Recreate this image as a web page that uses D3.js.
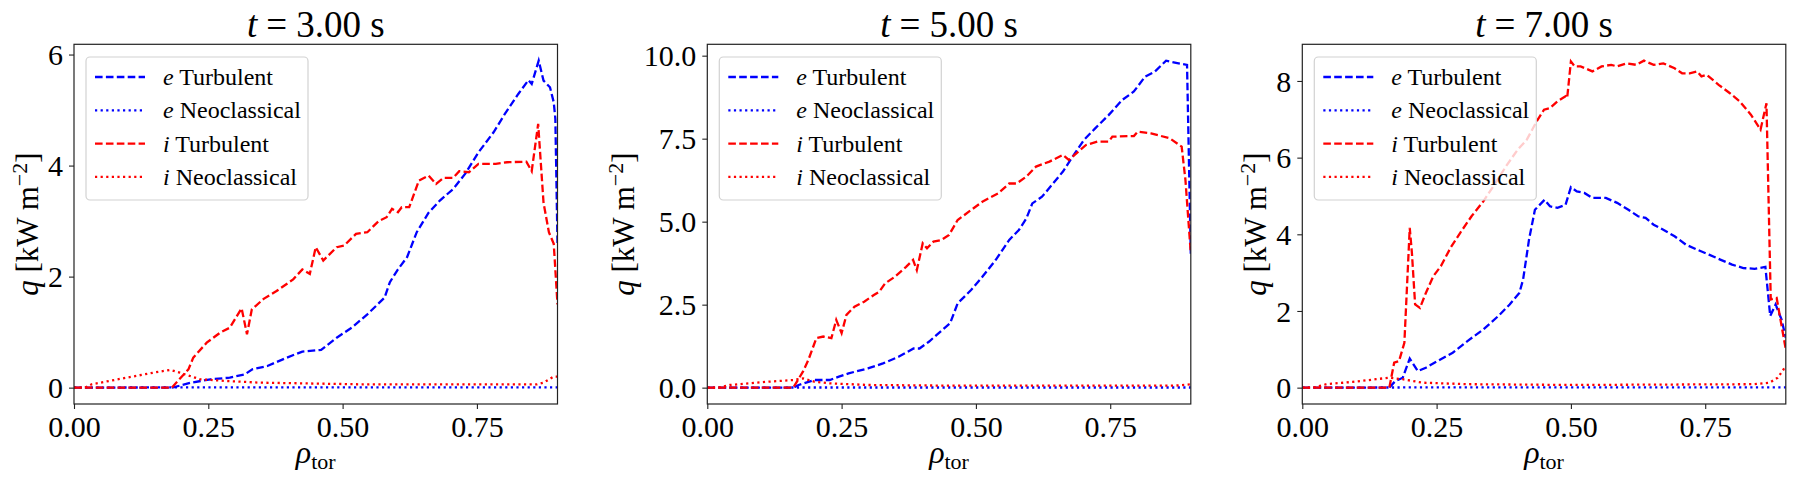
<!DOCTYPE html>
<html>
<head>
<meta charset="utf-8">
<script src="https://cdn.jsdelivr.net/npm/d3@7"></script>
<style>
  body { margin: 0; background: #fff; }
</style>
</head>
<body>
<div id="chart"></div>
<script>
// ---- data (rho_tor, q in kW m^-2) ----
var times = ["3.00", "5.00", "7.00"];
var xTicks = [0, 0.25, 0.5, 0.75];
var xTickLabels = ["0.00", "0.25", "0.50", "0.75"];
var yTicks3 = [0, 2, 4, 6];
var yTickLabels3 = ["0", "2", "4", "6"];
var yTicks5 = [0, 2.5, 5, 7.5, 10];
var yTickLabels5 = ["0.0", "2.5", "5.0", "7.5", "10.0"];
var yTicks7 = [0, 2, 4, 6, 8];
var yTickLabels7 = ["0", "2", "4", "6", "8"];
var seriesNames = ["Turbulent", "Neoclassical", "Turbulent", "Neoclassical"];
var seriesSpecies = ["e", "e", "i", "i"];

// t = 3.00 s
var eTurb3 = [[0,0],[0.183,0],[0.218,0.09],[0.254,0.15],[0.29,0.18],[0.318,0.24],[0.332,0.33],[0.36,0.39],
  [0.396,0.54],[0.425,0.65],[0.46,0.68],[0.489,0.9],[0.517,1.08],[0.546,1.32],[0.578,1.62],[0.588,1.9],
  [0.603,2.13],[0.62,2.35],[0.638,2.8],[0.66,3.15],[0.681,3.37],[0.706,3.58],[0.728,3.85],[0.753,4.24],
  [0.781,4.6],[0.802,4.93],[0.827,5.29],[0.846,5.54],[0.852,5.47],[0.865,5.89],[0.874,5.53],[0.886,5.41],
  [0.893,5.14],[0.896,4.84],[0.9,2.6]];
var eNeo3 = [[0,0],[0.2,0.005],[0.5,0.005],[0.9,0.005]];
var iTurb3 = [[0,0],[0.182,0],[0.213,0.33],[0.222,0.54],[0.247,0.81],[0.272,0.99],[0.29,1.08],[0.312,1.43],
  [0.322,0.96],[0.331,1.41],[0.353,1.6],[0.377,1.74],[0.408,1.95],[0.425,2.13],[0.439,2.05],[0.45,2.53],
  [0.464,2.29],[0.489,2.53],[0.503,2.56],[0.525,2.77],[0.546,2.8],[0.567,3.0],[0.582,3.07],[0.592,3.22],
  [0.603,3.16],[0.61,3.25],[0.624,3.25],[0.642,3.73],[0.66,3.82],[0.674,3.67],[0.688,3.78],[0.706,3.78],
  [0.717,3.9],[0.735,3.88],[0.753,4.03],[0.785,4.03],[0.806,4.06],[0.842,4.07],[0.852,3.9],[0.864,4.75],
  [0.874,3.33],[0.884,2.8],[0.893,2.59],[0.9,1.5]];
var iNeo3 = [[0,0],[0.02,0],[0.033,0.06],[0.098,0.18],[0.148,0.27],[0.179,0.32],[0.197,0.27],[0.235,0.15],
  [0.284,0.12],[0.346,0.09],[0.533,0.06],[0.862,0.06],[0.874,0.09],[0.893,0.2],[0.9,0.2]];

// t = 5.00 s
var eTurb5 = [[0,0],[0.16,0],[0.17,0.08],[0.199,0.23],[0.228,0.23],[0.245,0.33],[0.263,0.43],[0.299,0.58],
  [0.327,0.73],[0.356,0.93],[0.384,1.18],[0.395,1.18],[0.413,1.39],[0.427,1.59],[0.452,1.94],[0.466,2.54],
  [0.491,2.94],[0.512,3.34],[0.537,3.85],[0.562,4.45],[0.58,4.75],[0.594,5.1],[0.605,5.55],[0.623,5.75],
  [0.641,6.1],[0.662,6.51],[0.68,6.96],[0.701,7.46],[0.722,7.81],[0.747,8.21],[0.772,8.66],[0.794,8.92],
  [0.815,9.37],[0.833,9.52],[0.854,9.85],[0.868,9.8],[0.893,9.72],[0.9,4.0]];
var eNeo5 = [[0,0],[0.2,0.005],[0.5,0.005],[0.9,0.005]];
var iTurb5 = [[0,0],[0.16,0],[0.178,0.48],[0.188,0.83],[0.203,1.49],[0.216,1.54],[0.231,1.49],[0.24,2.04],
  [0.25,1.64],[0.259,2.19],[0.274,2.44],[0.292,2.59],[0.31,2.79],[0.32,2.89],[0.331,3.14],[0.349,3.34],
  [0.37,3.64],[0.383,3.85],[0.39,3.54],[0.401,4.35],[0.409,4.2],[0.421,4.4],[0.436,4.45],[0.45,4.6],
  [0.466,5.05],[0.491,5.35],[0.512,5.6],[0.541,5.85],[0.562,6.15],[0.576,6.15],[0.594,6.36],[0.612,6.66],
  [0.637,6.81],[0.662,7.01],[0.673,6.86],[0.687,7.06],[0.705,7.31],[0.726,7.41],[0.747,7.41],[0.754,7.56],
  [0.794,7.58],[0.801,7.71],[0.826,7.66],[0.861,7.51],[0.883,7.26],[0.89,6.26],[0.9,4.05]];
var iNeo5 = [[0,0],[0.02,0],[0.042,0.08],[0.114,0.18],[0.16,0.23],[0.178,0.28],[0.199,0.18],[0.228,0.13],
  [0.3,0.08],[0.45,0.06],[0.87,0.06],[0.9,0.1]];

// t = 7.00 s
var eTurb7 = [[0,0],[0.162,0],[0.173,0.17],[0.187,0.26],[0.2,0.76],[0.215,0.43],[0.23,0.52],[0.251,0.69],
  [0.28,0.91],[0.308,1.22],[0.337,1.52],[0.365,1.87],[0.386,2.17],[0.404,2.47],[0.411,2.82],[0.422,3.86],
  [0.433,4.64],[0.451,4.9],[0.461,4.73],[0.475,4.69],[0.49,4.77],[0.5,5.23],[0.511,5.12],[0.525,5.08],
  [0.54,4.95],[0.565,4.95],[0.586,4.82],[0.607,4.64],[0.625,4.47],[0.639,4.43],[0.654,4.25],[0.672,4.12],
  [0.693,3.95],[0.714,3.73],[0.735,3.6],[0.757,3.47],[0.778,3.34],[0.8,3.21],[0.821,3.12],[0.842,3.1],
  [0.862,3.15],[0.871,1.87],[0.881,2.17],[0.892,1.78],[0.9,1.3]];
var eNeo7 = [[0,0],[0.2,0.005],[0.5,0.005],[0.9,0.005]];
var iTurb7 = [[0,0],[0.162,0],[0.171,0.65],[0.18,0.69],[0.19,1.17],[0.2,4.17],[0.204,3.52],[0.21,2.17],
  [0.219,2.08],[0.23,2.47],[0.244,2.91],[0.258,3.17],[0.276,3.65],[0.294,4.04],[0.315,4.47],[0.337,4.86],
  [0.358,5.3],[0.379,5.77],[0.401,6.21],[0.418,6.47],[0.436,6.94],[0.45,7.25],[0.461,7.29],[0.475,7.47],
  [0.49,7.6],[0.493,7.55],[0.5,8.51],[0.507,8.38],[0.518,8.38],[0.54,8.25],[0.557,8.38],[0.575,8.42],
  [0.586,8.38],[0.604,8.46],[0.622,8.42],[0.636,8.53],[0.654,8.42],[0.672,8.46],[0.693,8.33],[0.707,8.2],
  [0.721,8.2],[0.735,8.25],[0.743,8.12],[0.753,8.16],[0.775,7.9],[0.796,7.68],[0.814,7.47],[0.835,7.12],
  [0.853,6.73],[0.864,7.42],[0.872,2.3],[0.883,2.34],[0.89,1.78],[0.9,1.0]];
var iNeo7 = [[0,0],[0.02,0],[0.045,0.09],[0.094,0.15],[0.137,0.22],[0.162,0.26],[0.187,0.22],[0.223,0.13],
  [0.308,0.09],[0.5,0.07],[0.842,0.09],[0.87,0.13],[0.885,0.26],[0.896,0.48],[0.9,0.5]];

var panelSeries = [
  [eTurb3, eNeo3, iTurb3, iNeo3],
  [eTurb5, eNeo5, iTurb5, iNeo5],
  [eTurb7, eNeo7, iTurb7, iNeo7]
];
var panelYTicks = [yTicks3, yTicks5, yTicks7];
var panelYTickLabels = [yTickLabels3, yTickLabels5, yTickLabels7];

// ---- layout ----
var W = 1800, H = 487;
var axLeft = [74, 707.3, 1302.3];
var axW = 483.5, axTop = 44.3, axBottom = 404;
var ylabelOffset = [47, 84, 47];
var colors = ["#0000ff", "#0000ff", "#ff0000", "#ff0000"];
var dashes = ["7.6,3.3", "2.2,3.4", "7.6,3.3", "2.2,3.4"];
var FONT = "'Liberation Serif'";

var svg = d3.select("#chart").append("svg")
  .attr("width", W).attr("height", H)
  .attr("font-family", FONT)
  .style("display", "block");

panelSeries.forEach(function(series, p) {
  var x0 = axLeft[p];
  var x = d3.scaleLinear().domain([0, 0.9]).range([x0, x0 + axW]);

  // matplotlib-like 5% margins on y
  var ymax = d3.max(series, function(s) { return d3.max(s, function(d) { return d[1]; }); });
  var ymin = 0;
  var pad = 0.05 * (ymax - ymin);
  var y = d3.scaleLinear().domain([ymin - pad, ymax + pad]).range([axBottom, axTop]);

  var g = svg.append("g");

  g.append("clipPath").attr("id", "clip" + p)
    .append("rect")
    .attr("x", x0).attr("y", axTop)
    .attr("width", axW).attr("height", axBottom - axTop);

  var line = d3.line()
    .x(function(d) { return x(d[0]); })
    .y(function(d) { return y(d[1]); });

  series.forEach(function(s, i) {
    g.append("path")
      .datum(s)
      .attr("d", line)
      .attr("clip-path", "url(#clip" + p + ")")
      .attr("fill", "none")
      .attr("stroke", colors[i])
      .attr("stroke-width", 2.3)
      .attr("stroke-dasharray", dashes[i]);
  });

  // axes
  var xAxis = d3.axisBottom(x).tickValues(xTicks)
    .tickFormat(function(d, i) { return xTickLabels[i]; })
    .tickSize(5).tickPadding(7);
  var gx = g.append("g").attr("transform", "translate(0," + axBottom + ")").call(xAxis);
  gx.select(".domain").remove();
  gx.attr("font-family", FONT).attr("font-size", 30);
  gx.selectAll("text").attr("fill", "#000");
  gx.selectAll("line").attr("stroke", "#222").attr("stroke-width", 1.1);

  var yticks = panelYTicks[p], ylabels = panelYTickLabels[p];
  var yAxis = d3.axisLeft(y).tickValues(yticks)
    .tickFormat(function(d, i) { return ylabels[i]; })
    .tickSize(5).tickPadding(6);
  var gy = g.append("g").attr("transform", "translate(" + x0 + ",0)").call(yAxis);
  gy.select(".domain").remove();
  gy.attr("font-family", FONT).attr("font-size", 30);
  gy.selectAll("text").attr("fill", "#000").attr("dy", "0.34em");
  gy.selectAll("line").attr("stroke", "#222").attr("stroke-width", 1.1);

  // frame
  g.append("rect")
    .attr("x", x0).attr("y", axTop)
    .attr("width", axW).attr("height", axBottom - axTop)
    .attr("fill", "none").attr("stroke", "#222").attr("stroke-width", 1.2);

  // title  t = 3.00 s
  var title = g.append("text")
    .attr("x", x0 + axW / 2).attr("y", 36.5)
    .attr("text-anchor", "middle")
    .attr("font-size", 37);
  title.append("tspan").attr("font-style", "italic").text("t");
  title.append("tspan").attr("dx", 9).text("=");
  title.append("tspan").attr("dx", 9).text(times[p] + " s");

  // x label rho_tor
  var xl = g.append("text")
    .attr("x", x0 + axW / 2).attr("y", 463)
    .attr("text-anchor", "middle")
    .attr("font-size", 32);
  xl.append("tspan").attr("font-style", "italic").text("ρ");
  xl.append("tspan").attr("dy", 6).attr("font-size", 22).text("tor");

  // y label q [kW m^-2]
  var yl = g.append("text")
    .attr("transform", "translate(" + (x0 - ylabelOffset[p]) + "," + ((axTop + axBottom) / 2) + ") rotate(-90)")
    .attr("text-anchor", "middle")
    .attr("dy", "0.35em")
    .attr("font-size", 31);
  yl.append("tspan").attr("font-style", "italic").text("q");
  yl.append("tspan").text(" [kW m");
  yl.append("tspan").attr("dy", -11).attr("font-size", 22).text("−2");
  yl.append("tspan").attr("dy", 11).text("]");

  // legend
  var lx = x0 + 12, ly = 57;
  var leg = g.append("g");
  leg.append("rect")
    .attr("x", lx).attr("y", ly)
    .attr("width", 222).attr("height", 143)
    .attr("rx", 4).attr("ry", 4)
    .attr("fill", "#fff").attr("fill-opacity", 0.8)
    .attr("stroke", "#d2d2d2").attr("stroke-width", 1.2);
  seriesNames.forEach(function(name, i) {
    var ry = ly + 20 + i * 33.3;
    leg.append("line")
      .attr("x1", lx + 9).attr("x2", lx + 59)
      .attr("y1", ry).attr("y2", ry)
      .attr("stroke", colors[i]).attr("stroke-width", 2.3)
      .attr("stroke-dasharray", dashes[i]);
    var t = leg.append("text")
      .attr("x", lx + 77).attr("y", ry + 8)
      .attr("font-size", 24);
    t.append("tspan").attr("font-style", "italic").text(seriesSpecies[i]);
    t.append("tspan").text(" " + name);
  });
});
</script>
</body>
</html>
